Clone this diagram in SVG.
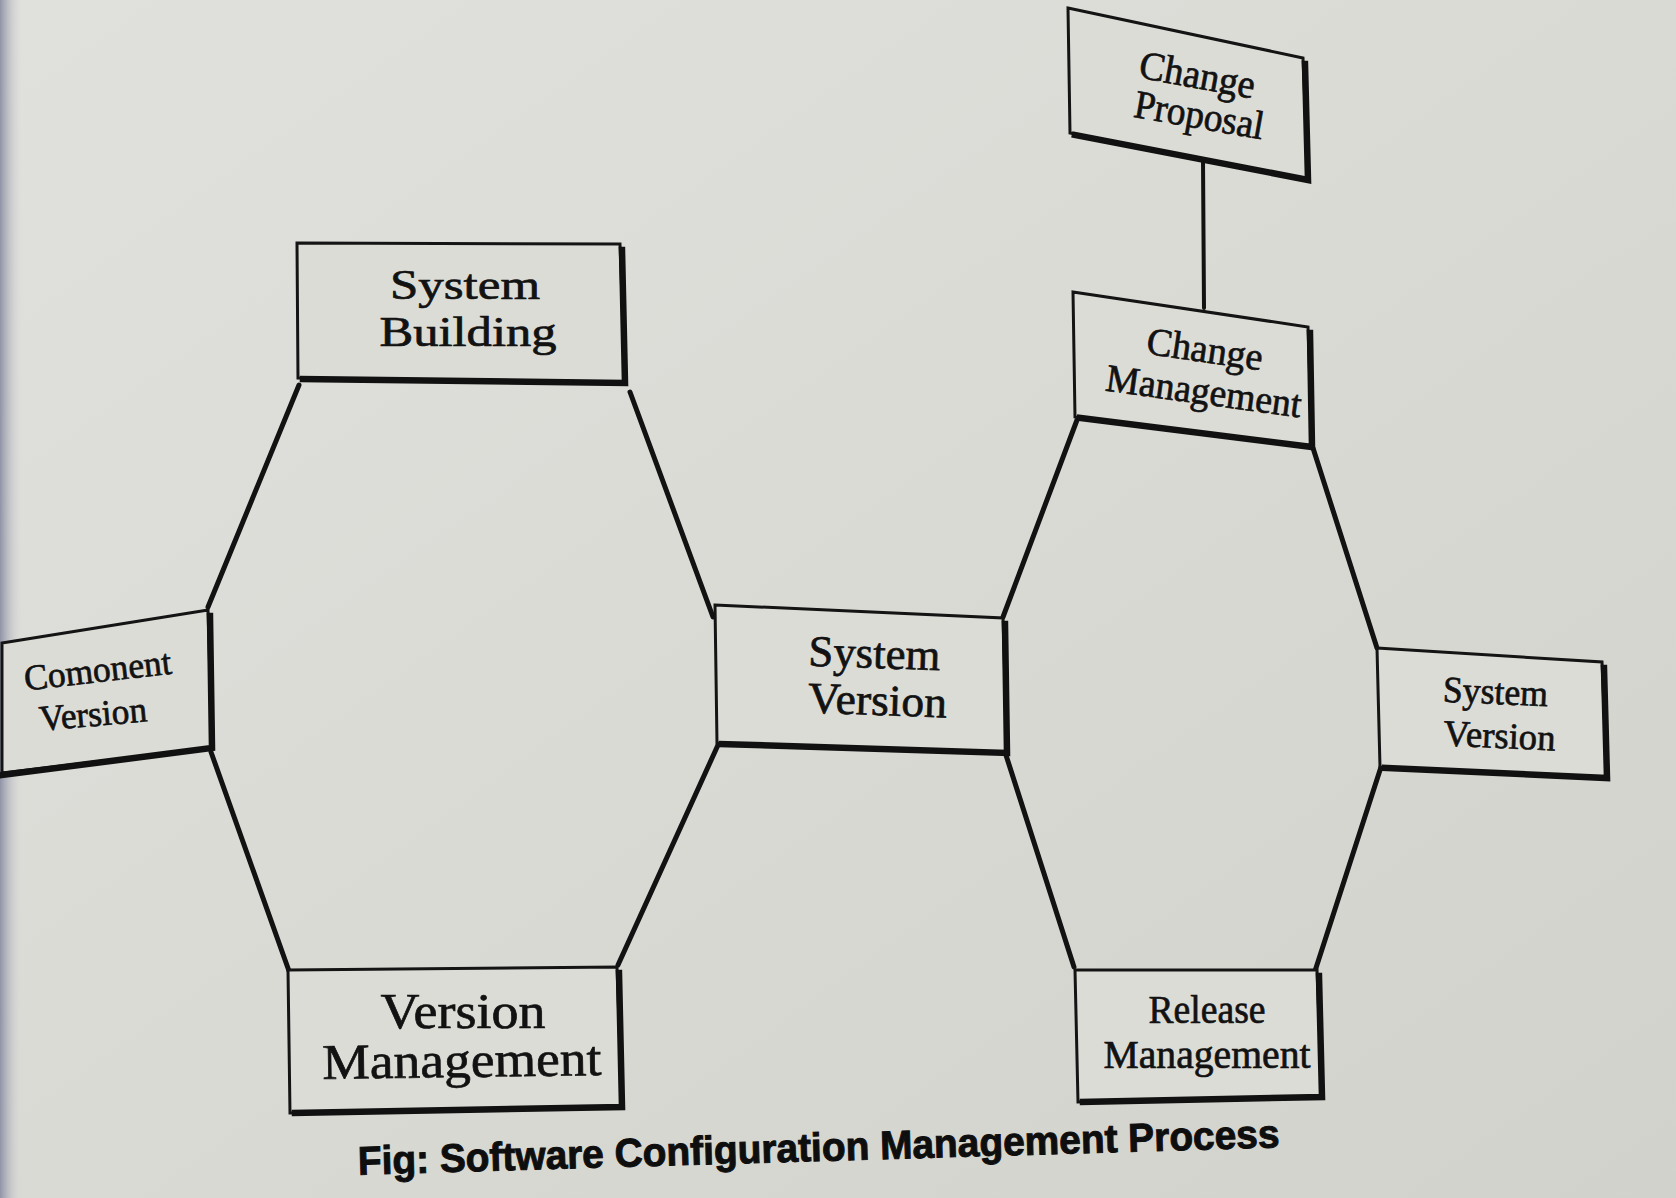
<svg xmlns="http://www.w3.org/2000/svg" width="1676" height="1198" viewBox="0 0 1676 1198">
<defs>
<linearGradient id="bg" x1="0" y1="0" x2="1" y2="1">
<stop offset="0" stop-color="#e0e0dd"/>
<stop offset="0.5" stop-color="#dadad5"/>
<stop offset="1" stop-color="#d2d2cc"/>
</linearGradient>
<linearGradient id="edge" x1="0" y1="0" x2="1" y2="0">
<stop offset="0" stop-color="#8f93a6"/>
<stop offset="1" stop-color="#d8d8d6" stop-opacity="0"/>
</linearGradient>
</defs>
<style>
.box{fill:#dcdcd7;stroke:#141414;stroke-width:3;stroke-linejoin:miter}
.sh{fill:none;stroke:#111;stroke-width:6.5;stroke-linejoin:miter;stroke-linecap:square}
.t{font-family:"Liberation Serif","Times New Roman",serif;fill:#121212;stroke:#121212;stroke-width:0.7;text-anchor:middle}
.con line{stroke:#121212;stroke-width:5;stroke-linecap:round}
.cap{font-family:"Liberation Sans",Arial,sans-serif;font-weight:bold;fill:#0e0e0e;stroke:#0e0e0e;stroke-width:1;text-anchor:middle}
</style>
<rect x="0" y="0" width="1676" height="1198" fill="url(#bg)"/>
<rect x="0" y="0" width="22" height="1198" fill="url(#edge)"/>

<g id="connectors" class="con">
<line x1="299" y1="385" x2="208" y2="607"/>
<line x1="630" y1="392" x2="713" y2="617"/>
<line x1="211" y1="752" x2="289" y2="971"/>
<line x1="718" y1="745" x2="618" y2="965"/>
<line x1="1077" y1="420" x2="1003" y2="617"/>
<line x1="1313" y1="448" x2="1377" y2="648"/>
<line x1="1005" y1="752" x2="1074" y2="967"/>
<line x1="1381" y1="767" x2="1315" y2="971"/>
<line x1="1203" y1="160" x2="1204" y2="308" style="stroke-width:4"/>
</g>

<g id="change-proposal">
<polygon class="box" points="1068,8 1303,58 1308,180 1070,133"/>
<polyline class="sh" points="1305,64 1308,180 1075,135"/>
<text class="t" font-size="40" transform="translate(1195,88) rotate(10.5)" textLength="117" lengthAdjust="spacingAndGlyphs">Change</text>
<text class="t" font-size="40" transform="translate(1197,128) rotate(10)" textLength="131" lengthAdjust="spacingAndGlyphs">Proposal</text>
</g>

<g id="change-management">
<polygon class="box" points="1073,292 1308,327 1312,447 1075,417"/>
<polyline class="sh" points="1310,333 1312,447 1080,418"/>
<text class="t" font-size="39" transform="translate(1203,362) rotate(8.4)" textLength="117" lengthAdjust="spacingAndGlyphs">Change</text>
<text class="t" font-size="39" transform="translate(1202,404) rotate(7.9)" textLength="197" lengthAdjust="spacingAndGlyphs">Management</text>
</g>

<g id="system-building">
<polygon class="box" points="297,243 620,244 625,383 298,378"/>
<polyline class="sh" points="622,250 625,383 303,379"/>
<text class="t" font-size="42" x="465" y="299" textLength="150" lengthAdjust="spacingAndGlyphs">System</text>
<text class="t" font-size="42" x="468" y="346" textLength="177" lengthAdjust="spacingAndGlyphs">Building</text>
</g>

<g id="component-version">
<polygon class="box" points="2,643 208,610 212,748 2,773"/>
<polyline class="sh" points="210,616 212,748 2,775"/>
<text class="t" font-size="36" transform="translate(99,682) rotate(-6.5)" textLength="148" lengthAdjust="spacingAndGlyphs">Comonent</text>
<text class="t" font-size="36" transform="translate(94,726) rotate(-5)" textLength="108" lengthAdjust="spacingAndGlyphs">Version</text>
</g>

<g id="system-version-mid">
<polygon class="box" points="715,605 1003,618 1007,753 717,743"/>
<polyline class="sh" points="1005,624 1007,753 722,744"/>
<text class="t" font-size="44" transform="translate(874,668) rotate(2)" textLength="132" lengthAdjust="spacingAndGlyphs">System</text>
<text class="t" font-size="44" transform="translate(877,715) rotate(2)" textLength="139" lengthAdjust="spacingAndGlyphs">Version</text>
</g>

<g id="system-version-right">
<polygon class="box" points="1377,648 1602,662 1607,778 1380,767"/>
<polyline class="sh" points="1604,668 1607,778 1385,768"/>
<text class="t" font-size="37" transform="translate(1495,704) rotate(2.5)" textLength="105" lengthAdjust="spacingAndGlyphs">System</text>
<text class="t" font-size="37" transform="translate(1499,748) rotate(2.5)" textLength="112" lengthAdjust="spacingAndGlyphs">Version</text>
</g>

<g id="version-management">
<polygon class="box" points="288,970 617,967 622,1107 290,1113"/>
<polyline class="sh" points="619,973 622,1107 295,1113"/>
<text class="t" font-size="50" x="463" y="1028" textLength="165" lengthAdjust="spacingAndGlyphs">Version</text>
<text class="t" font-size="50" transform="translate(462,1077) rotate(-0.8)" textLength="279" lengthAdjust="spacingAndGlyphs">Management</text>
</g>

<g id="release-management">
<polygon class="box" points="1075,970 1317,970 1322,1097 1078,1102"/>
<polyline class="sh" points="1319,976 1322,1097 1083,1102"/>
<text class="t" font-size="40" x="1207" y="1023" textLength="117" lengthAdjust="spacingAndGlyphs">Release</text>
<text class="t" font-size="40" x="1207" y="1068" textLength="207" lengthAdjust="spacingAndGlyphs">Management</text>
</g>

<text class="cap" font-size="40" transform="translate(819,1161) rotate(-1.7)" textLength="922" lengthAdjust="spacingAndGlyphs">Fig: Software Configuration Management Process</text>
</svg>
